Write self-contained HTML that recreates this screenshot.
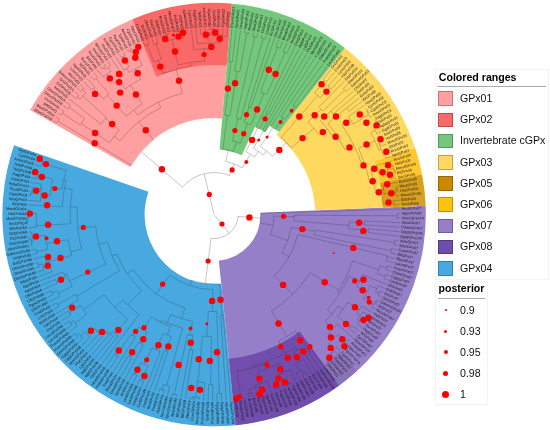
<!DOCTYPE html>
<html><head><meta charset="utf-8"><title>GPx phylogeny</title>
<style>
html,body{margin:0;padding:0;background:#fff}
body{width:550px;height:430px;position:relative;overflow:hidden;font-family:"Liberation Sans",Arial,sans-serif;color:#000}
.box{position:absolute;border:1px solid #f3f3f3;background:#fff;box-sizing:border-box}
.ttl{position:absolute;font-weight:bold;font-size:10.6px;line-height:14px;white-space:nowrap}
.hr{position:absolute;height:1px;background:#aaa}
.sw{position:absolute;width:14.5px;height:14.6px;box-sizing:border-box;border:1px solid rgba(0,0,0,0.25)}
.lt{position:absolute;font-size:10.6px;line-height:14px;white-space:nowrap;color:#111}
.dot{position:absolute;border-radius:50%;background:#ff0000}
</style></head><body>
<svg width="550" height="430" viewBox="0 0 550 430" style="position:absolute;left:0;top:0"><path d="M14.05 145.33A211.7 211.7 0 0 0 235.68 425.2L221.18 283.74A69.5 69.5 0 0 1 148.43 191.86Z" fill="#47a9df"/>
<path d="M235.68 425.2A211.7 211.7 0 0 0 425.61 205.73L260.56 212.65A46.5 46.5 0 0 1 218.84 260.86Z" fill="#957fc8"/>
<path d="M425.61 205.73A211.7 211.7 0 0 0 344.87 48.12L276.61 135.02A101.2 101.2 0 0 1 315.21 210.36Z" fill="#ffd95f"/>
<path d="M344.87 48.12A211.7 211.7 0 0 0 325.34 34.48L269.27 125.26A105 105 0 0 1 278.96 132.03Z" fill="#74c87b"/>
<path d="M326.28 35.07A211.7 211.7 0 0 0 302.56 22.27L254.63 126.47A97 97 0 0 1 265.5 132.34Z" fill="#74c87b"/>
<path d="M303.57 22.73A211.7 211.7 0 0 0 231.81 3.64L219.57 149.43A65.4 65.4 0 0 1 241.74 155.33Z" fill="#74c87b"/>
<path d="M231.81 3.64A211.7 211.7 0 0 0 30.03 110.03L130.19 166.93A96.5 96.5 0 0 1 222.17 118.44Z" fill="#ff9f9f"/>
<path d="M231.81 3.64A211.7 211.7 0 0 0 132.57 19.23L156.53 76.63A149.5 149.5 0 0 1 226.61 65.62Z" fill="#fa6868"/>
<path d="M425.61 205.73A211.7 211.7 0 0 0 421.98 174.57L380.05 182.64A169 169 0 0 1 382.95 207.52Z" fill="#d7a11f"/>
<path d="M421.98 174.57A211.7 211.7 0 0 0 415.09 148.13L374.55 161.54A169 169 0 0 1 380.05 182.64Z" fill="#ffc830"/>
<path d="M235.68 425.2A211.7 211.7 0 0 0 339.13 385.43L299.74 331.61A145 145 0 0 1 228.88 358.84Z" fill="#714dad"/>
<path d="M339.13 385.43A211.7 211.7 0 0 0 357.12 370.68L339.76 351.73A186 186 0 0 1 323.95 364.69Z" fill="#8872b8"/>
<path d="M38.69 156.25A184.86 184.86 0 0 0 37.31 160.56M38.69 156.25L37.32 155.8M37.31 160.56L35.94 160.14M43.04 160.01A179.55 179.55 0 0 0 41.16 166.33M43.04 160.01L37.99 158.4M41.16 166.33L34.66 164.51M34.49 169.17A185.26 185.26 0 0 0 33.43 173.58M34.49 169.17L33.49 168.92M33.43 173.58L32.42 173.35M38.4 172.44A180.69 180.69 0 0 0 36.97 178.92M38.4 172.44L33.95 171.37M36.97 178.92L31.47 177.81M30.78 191.49A184.77 184.77 0 0 0 30.27 195.98M30.78 191.49L29.26 191.3M30.27 195.98L28.75 195.83M32.92 187.24A183.23 183.23 0 0 0 32.04 193.91M32.92 187.24L29.89 186.79M32.04 193.91L30.52 193.74M41.02 184.12A175.74 175.74 0 0 0 39.87 191.55M41.02 184.12L30.62 182.29M39.87 191.55L32.45 190.57M41.89 188.06A174.24 174.24 0 0 0 40.37 201.29M41.89 188.06L40.41 187.83M40.37 201.29L28.34 200.37M52.71 178.99A165.27 165.27 0 0 0 49.91 195.69M52.71 178.99L37.65 175.67M49.91 195.69L41 194.66M66.27 170.4A154.3 154.3 0 0 0 61.92 189.12M66.27 170.4L42.07 163.16M61.92 189.12L51.1 187.3M66.04 180.21A152 152 0 0 0 62.31 206.7M66.04 180.21L63.8 179.69M62.31 206.7L28.05 204.92M26.79 218.61A187.36 187.36 0 0 0 26.94 223.19M26.79 218.61L27.84 218.59M26.94 223.19L28 223.14M27.74 214.03A186.36 186.36 0 0 0 27.85 220.87M27.74 214.03L27.8 214.03M27.85 220.87L26.85 220.9M28.81 209.5A185.36 185.36 0 0 0 28.77 217.43M28.81 209.5L27.87 209.47M28.77 217.43L27.77 217.45M36.1 213.51A178 178 0 0 0 36.54 227.11M36.1 213.51L28.75 213.47M36.54 227.11L28.26 227.69M72.28 189.62A144 144 0 0 0 70.39 223.67M72.28 189.62L64.4 188.24M70.39 223.67L36.45 225.81M29.67 236.7A185.75 185.75 0 0 0 30.26 241.21M29.67 236.7L29.12 236.77M30.26 241.21L29.72 241.29M30.94 238.83A184.75 184.75 0 0 0 31.95 245.53M30.94 238.83L29.95 238.96M31.95 245.53L30.43 245.79M31.71 231.94A183.21 183.21 0 0 0 32.95 241.95M31.71 231.94L28.64 232.24M32.95 241.95L31.42 242.18M36.14 249.32A181.32 181.32 0 0 0 37.04 253.66M36.14 249.32L31.25 250.27M37.04 253.66L32.17 254.74M45.37 235.34A170 170 0 0 0 47.66 249.19M45.37 235.34L32.26 236.96M47.66 249.19L36.57 251.49M37.84 262.64A182.68 182.68 0 0 0 39.07 266.93M37.84 262.64L34.36 263.59M39.07 266.93L35.61 267.97M41.92 263.8A179.07 179.07 0 0 0 43.84 270.08M41.92 263.8L38.44 264.79M43.84 270.08L36.97 272.32M44.86 256.3A174.3 174.3 0 0 0 47.41 265.55M44.86 256.3L33.21 259.17M47.41 265.55L42.85 266.95M48.29 260.33A172 172 0 0 0 51.92 271.87M48.29 260.33L46.07 260.95M51.92 271.87L38.43 276.64M68.25 239.73A148 148 0 0 0 71.79 255.26M68.25 239.73L46.57 243.47M71.79 255.26L48.72 261.85M77.3 207.15A137 137 0 0 0 81.49 249M77.3 207.15L70.31 206.76M81.49 249L70.84 251.77M55.41 279.53A171.46 171.46 0 0 0 57.05 283.4M55.41 279.53L41.68 285.15M57.05 283.4L43.45 289.35M63.36 272.02A161.3 161.3 0 0 0 65.57 277.51M63.36 272.02L40 280.91M65.57 277.51L56.22 281.47M51.08 290.82A179.96 179.96 0 0 0 52.99 294.78M51.08 290.82L45.33 293.5M52.99 294.78L47.31 297.61M56.96 290.42A174.48 174.48 0 0 0 59.85 296.14M56.96 290.42L52.02 292.81M59.85 296.14L49.4 301.66M66.58 273.91A159 159 0 0 0 72.19 286.31M66.58 273.91L64.44 274.77M72.19 286.31L58.38 293.29M95.69 226.44A119 119 0 0 0 105.93 264.21M95.69 226.44L77.78 228.24M105.93 264.21L69.57 280.88M56.71 302.79A180.41 180.41 0 0 0 58.91 306.61M56.71 302.79L51.57 305.67M58.91 306.61L53.85 309.62M75.49 294.51A160 160 0 0 0 78.51 299.55M75.49 294.51L57.8 304.71M78.51 299.55L56.22 313.51M107.62 242.22A110 110 0 0 0 119.48 270.7M107.62 242.22L98.91 244.48M119.48 270.7L76.47 296.2M68.33 310.97A174.74 174.74 0 0 0 70.73 314.51M68.33 310.97L58.69 317.34M70.73 314.51L61.25 321.11M69.23 320.91A179.69 179.69 0 0 0 71.87 324.42M69.23 320.91L63.9 324.82M71.87 324.42L66.64 328.46M73.45 320.49A176.06 176.06 0 0 0 77.43 325.58M73.45 320.49L70.54 322.68M77.43 325.58L69.47 332.03M80.41 305.35A161.59 161.59 0 0 0 86.81 314.14M80.41 305.35L69.52 312.74M86.81 314.14L75.41 323.05M74.67 333.59A183.3 183.3 0 0 0 77.63 336.96M74.67 333.59L72.39 335.54M77.63 336.96L75.39 338.97M78.4 333.31A180.29 180.29 0 0 0 82.85 338.21M78.4 333.31L76.14 335.28M82.85 338.21L78.47 342.32M85.05 331.74A174.29 174.29 0 0 0 90.18 337.15M85.05 331.74L80.6 335.78M90.18 337.15L81.64 345.6M94.21 328.2A165.16 165.16 0 0 0 99.54 333.58M94.21 328.2L87.59 334.47M99.54 333.58L84.88 348.8M97.56 330.22A164.16 164.16 0 0 0 103.16 335.61M97.56 330.22L96.85 330.92M103.16 335.61L88.21 351.93M103.21 329.95A160.01 160.01 0 0 0 108.89 335.15M103.21 329.95L100.33 332.95M108.89 335.15L91.6 354.96M107.17 331.33A158.31 158.31 0 0 0 112.96 336.39M107.17 331.33L106.02 332.59M112.96 336.39L95.07 357.92M112.26 331.34A154.92 154.92 0 0 0 118.07 336.16M112.26 331.34L110.03 333.9M118.07 336.16L98.62 360.79M104.13 294.79A136.1 136.1 0 0 0 127.15 319.31M104.13 294.79L83.53 309.8M127.15 319.31L115.13 333.79M122.97 300.16A125 125 0 0 0 139.04 314.55M122.97 300.16L114.88 307.76M139.04 314.55L102.23 363.57M116.82 254.13A105 105 0 0 0 141.64 290.59M116.82 254.13L112.19 256.01M141.64 290.59L127.84 305.07M114.8 353.79A170.98 170.98 0 0 0 118.23 356.18M114.8 353.79L105.9 366.26M118.23 356.18L109.65 368.86M130.92 334.26A145.73 145.73 0 0 0 135.37 337.23M130.92 334.26L116.51 355M135.37 337.23L113.45 371.37M128.24 355.82A165.27 165.27 0 0 0 131.73 357.87M128.24 355.82L117.32 373.79M131.73 357.87L121.24 376.11M138.57 342.33A148.4 148.4 0 0 0 143.3 345.02M138.57 342.33L129.98 356.86M143.3 345.02L125.22 378.33M138.9 327.14A135.35 135.35 0 0 0 147.35 332.35M138.9 327.14L133.13 335.77M147.35 332.35L140.92 343.7M132.98 373.17A178.12 178.12 0 0 0 136.88 375.11M132.98 373.17L129.25 380.46M136.88 375.11L133.34 382.48M139.73 379.4A180.81 180.81 0 0 0 143.78 381.17M139.73 379.4L137.47 384.41M143.78 381.17L141.64 386.23M140.72 362.47A165.08 165.08 0 0 0 148.04 365.89M140.72 362.47L134.92 374.15M148.04 365.89L141.75 380.3M151.97 347.9A147.07 147.07 0 0 0 160.23 351.45M151.97 347.9L144.36 364.23M160.23 351.45L145.86 387.95M164.44 350.43A144.63 144.63 0 0 0 167.77 351.61M164.44 350.43L150.13 389.57M167.77 351.61L154.43 391.08M163.16 333.23A129.1 129.1 0 0 0 171.25 336.38M163.16 333.23L156.07 349.74M171.25 336.38L166.1 351.03M150.98 317.01A120.3 120.3 0 0 0 170.38 326.67M150.98 317.01L143.08 329.82M170.38 326.67L167.18 334.87M159.91 388.8A182.43 182.43 0 0 0 164.19 390.07M159.91 388.8L158.76 392.49M164.19 390.07L163.13 393.79M163.51 384.52A177.29 177.29 0 0 0 169.78 386.26M163.51 384.52L162.04 389.45M169.78 386.26L167.53 394.99M161.49 320.22A118 118 0 0 0 182.51 328.29M161.49 320.22L160.46 322.28M182.51 328.29L166.64 385.42M172.48 393.83A184 184 0 0 0 176.87 394.79M172.48 393.83L171.96 396.07M176.87 394.79L176.41 397.05M189.67 349.4A137 137 0 0 0 192.98 349.96M189.67 349.4L180.88 397.91M192.98 349.96L185.38 398.67M187.45 334.68A123 123 0 0 0 193.06 335.79M187.45 334.68L174.23 394.23M193.06 335.79L190.66 349.58M170.73 314.6A109 109 0 0 0 192.57 321.45M170.73 314.6L167.15 322.86M192.57 321.45L189.8 335.18M133.15 269.84A98 98 0 0 0 184.76 308.11M133.15 269.84L127.37 273.78M184.76 308.11L181.47 318.6M190.05 398.06A185.03 185.03 0 0 0 194.55 398.6M190.05 398.06L189.89 399.32M194.55 398.6L194.41 399.86M192.48 396.85A183.53 183.53 0 0 0 199.18 397.53M192.48 396.85L192.3 398.34M199.18 397.53L198.95 400.28M197.37 381.76A168 168 0 0 0 204.54 382.33M197.37 381.76L195.82 397.22M204.54 382.33L203.5 400.6M208.58 384.51A170 170 0 0 0 212.74 384.59M208.58 384.51L208.05 400.8M212.74 384.59L212.61 400.89M202.4 336.04A122 122 0 0 0 211.63 336.58M202.4 336.04L197.98 381.83M211.63 336.58L210.66 384.57M217.05 393.58A179 179 0 0 0 221.43 393.45M217.05 393.58L217.17 400.87M221.43 393.45L221.72 400.74M208.34 311.43A97 97 0 0 0 216.88 311.56M208.34 311.43L206.86 336.38M216.88 311.56L219.24 393.53M169.8 275.12A75 75 0 0 0 212.77 289.59M169.8 275.12L156.21 293.68M212.77 289.59L212.38 311.58M220.7 315.38A101 101 0 0 0 223.16 315.19M220.7 315.38L226.28 400.5M223.16 315.19L230.82 400.15M191.36 280.27A69.5 69.5 0 0 0 219.66 283.88M191.36 280.27L189.56 285.47M219.66 283.88L222.18 315.28M235.32 399.51A186.12 186.12 0 0 0 239.82 398.94M235.32 399.51L235.34 399.68M239.82 398.94L239.85 399.11M237.44 398.17A185.04 185.04 0 0 0 244.13 397.19M237.44 398.17L237.58 399.24M244.13 397.19L244.33 398.43M248.04 393.59A182.17 182.17 0 0 0 252.39 392.71M248.04 393.59L248.8 397.64M252.39 392.71L253.25 396.74M257.57 395.28A185.83 185.83 0 0 0 261.96 394.16M257.57 395.28L257.68 395.73M261.96 394.16L262.08 394.62M259.29 392.87A183.91 183.91 0 0 0 265.78 391.1M259.29 392.87L259.77 394.73M265.78 391.1L266.45 393.39M249.4 389.12A178.05 178.05 0 0 0 261 386.36M249.4 389.12L250.21 393.16M261 386.36L262.54 392.01M254.55 385.01A175.14 175.14 0 0 0 267.39 381.44M254.55 385.01L255.22 387.84M267.39 381.44L270.79 392.07M274.33 388.41A183.95 183.95 0 0 0 278.54 386.89M274.33 388.41L275.1 390.63M278.54 386.89L279.37 389.09M287.43 384.88A185.4 185.4 0 0 0 291.56 383.04M287.43 384.88L287.79 385.71M291.56 383.04L291.94 383.86M282.89 385.69A184.4 184.4 0 0 0 289.09 383.06M282.89 385.69L283.6 387.45M289.09 383.06L289.5 383.97M274.47 382.19A178.13 178.13 0 0 0 283.56 378.63M274.47 382.19L276.44 387.67M283.56 378.63L286 384.4M276.94 375.12A172.39 172.39 0 0 0 289.92 369.42M276.94 375.12L279.04 380.47M289.92 369.42L296.04 381.91M257.7 371.45A162.8 162.8 0 0 0 279.63 363.62M257.7 371.45L261.01 383.34M279.63 363.62L283.49 372.4M236.93 371.24A158.3 158.3 0 0 0 267.29 363.7M236.93 371.24L240.79 397.71M267.29 363.7L268.8 367.93M302.11 374.13A182.2 182.2 0 0 0 305.97 371.94M302.11 374.13L304.09 377.73M305.97 371.94L308.04 375.48M296.3 372.59A178.1 178.1 0 0 0 302.02 369.48M296.3 372.59L300.09 379.87M302.02 369.48L304.04 373.05M295.26 363.86A169.9 169.9 0 0 0 303.31 359.19M295.26 363.86L299.18 371.06M303.31 359.19L311.93 373.15M293.9 352.24A159.1 159.1 0 0 0 300.92 347.92M293.9 352.24L299.32 361.58M300.92 347.92L315.76 370.72M251.74 365.99A156 156 0 0 0 295.81 347.49M251.74 365.99L252.3 368.22M295.81 347.49L297.44 350.13M308.05 351.46A166 166 0 0 0 311.35 349.13M308.05 351.46L319.53 368.19M311.35 349.13L323.24 365.58M278.72 341.05A142 142 0 0 0 295.32 331.08M278.72 341.05L285.09 353.51M295.32 331.08L309.04 350.77M326.79 362.74A186.13 186.13 0 0 0 330.37 359.96M326.79 362.74L326.89 362.88M330.37 359.96L330.47 360.09M327.97 360.57A185.13 185.13 0 0 0 333.23 356.31M327.97 360.57L328.59 361.36M333.23 356.31L333.98 357.21M328.82 356.25A182.28 182.28 0 0 0 334.76 351.23M328.82 356.25L330.62 358.47M334.76 351.23L337.42 354.24M330.84 352.62A180.78 180.78 0 0 0 337.03 347.15M330.84 352.62L331.82 353.77M337.03 347.15L340.78 351.2M343.91 347.9A186.06 186.06 0 0 0 347.12 344.7M343.91 347.9L344.07 348.07M347.12 344.7L347.29 344.87M343.19 343.97A182.76 182.76 0 0 0 347.83 339.17M343.19 343.97L345.52 346.31M347.83 339.17L350.42 341.58M328.46 343.71A172.47 172.47 0 0 0 338.13 334.44M328.46 343.71L333.97 349.92M338.13 334.44L345.53 341.59M328.25 333.8A165.04 165.04 0 0 0 337.57 324.12M328.25 333.8L333.39 339.17M337.57 324.12L353.47 338.22M348.85 328.38A176.37 176.37 0 0 0 351.58 325.07M348.85 328.38L356.44 334.79M351.58 325.07L359.33 331.29M363.58 323.16A184.74 184.74 0 0 0 366.18 319.49M363.58 323.16L364.84 324.08M366.18 319.49L367.46 320.37M357.29 324.01A180.21 180.21 0 0 0 361.19 318.71M357.29 324.01L362.13 327.72M361.19 318.71L364.89 321.33M357.47 320.06A177.98 177.98 0 0 0 363.03 312.05M357.47 320.06L359.26 321.38M363.03 312.05L369.99 316.6M356.64 313.55A173.52 173.52 0 0 0 361.57 306.04M356.64 313.55L360.3 316.09M361.57 306.04L372.43 312.78M337.48 316.23A159.85 159.85 0 0 0 347.73 302.33M337.48 316.23L350.23 326.73M347.73 302.33L359.16 309.83M325.16 321.5A154.15 154.15 0 0 0 338.2 306.04M325.16 321.5L333.01 329.05M338.2 306.04L342.79 309.42M375.43 304.06A184.47 184.47 0 0 0 377.56 300.1M375.43 304.06L377.03 304.95M377.56 300.1L379.18 300.95M371.62 307.04A182.64 182.64 0 0 0 374.89 301.22M371.62 307.04L374.78 308.89M374.89 301.22L376.5 302.09M377.89 295.26A182.58 182.58 0 0 0 379.81 291.24M377.89 295.26L381.23 296.9M379.81 291.24L383.19 292.81M375.5 291.65A178.85 178.85 0 0 0 378.21 285.7M375.5 291.65L378.86 293.26M378.21 285.7L385.04 288.66M363.49 298.63A171.4 171.4 0 0 0 370.1 285.6M363.49 298.63L373.28 304.14M370.1 285.6L376.88 288.69M356.73 287.01A159.95 159.95 0 0 0 362.37 274.6M356.73 287.01L366.94 292.19M362.37 274.6L386.8 284.48M327.46 310.21A148.3 148.3 0 0 0 349.08 276.03M327.46 310.21L331.94 313.98M349.08 276.03L359.68 280.86M383.96 278.56A181.5 181.5 0 0 0 385.47 274.4M383.96 278.56L388.45 280.25M385.47 274.4L390 275.98M386.1 269.96A180.69 180.69 0 0 0 387.4 265.76M386.1 269.96L391.44 271.68M387.4 265.76L392.78 267.34M377.37 273.82A173.68 173.68 0 0 0 380.06 265.79M377.37 273.82L384.73 276.49M380.06 265.79L386.77 267.86M337.5 292.63A146 146 0 0 0 352.52 261.02M337.5 292.63L339.44 293.86M352.52 261.02L378.76 269.82M271.51 310.77A112 112 0 0 0 309.86 272.69M271.51 310.77L286.89 336.52M309.86 272.69L338.93 290.33M385.99 260.82A178 178 0 0 0 387.27 255.77M385.99 260.82L394.01 262.97M387.07 256.62L395.14 258.58M274.55 275.77A86 86 0 0 0 297.77 234.49M274.55 275.77L292.82 294.27M297.77 234.49L387.27 255.77M390.4 252.9A180.41 180.41 0 0 0 391.28 248.6M390.4 252.9L396.15 254.15M391.28 248.6L397.06 249.71M394 244.59A182.38 182.38 0 0 0 394.68 240.2M394 244.59L397.86 245.24M394.68 240.2L398.56 240.75M314.03 235.04A102 102 0 0 0 314.91 230.15M314.03 235.04L390.85 250.75M314.91 230.15L394.35 242.4M282.13 252.76A78 78 0 0 0 291.07 227.24M282.13 252.76L289.11 256.67M291.07 227.24L314.75 231.13M368.14 232.62A155.09 155.09 0 0 0 368.53 228.87M368.14 232.62L399.14 236.25M368.53 228.87L399.61 231.74M363.99 224.77A150.23 150.23 0 0 0 364.19 221.12M363.99 224.77L399.97 227.21M364.19 221.12L400.22 222.68M348.54 228.67A135.17 135.17 0 0 0 349.07 222.11M348.54 228.67L368.34 230.75M349.07 222.11L364.1 222.94M397.24 218.08A183.18 183.18 0 0 0 397.28 213.62M397.24 218.08L400.37 218.14M397.28 213.62L400.4 213.6M293.84 220.99A80 80 0 0 0 294.1 215.15M293.84 220.99L348.84 225.39M294.1 215.15L397.27 215.85M270.7 234.51A60 60 0 0 0 274.08 216.18M270.7 234.51L287.68 240.48M274.08 216.18L294.07 216.71M260.03 223.06A46.7 46.7 0 0 0 260.78 213.21M260.03 223.06L273.11 225.48M260.78 213.21L400.32 209.07M211.07 238.41A24 24 0 0 0 238.03 216.43M211.07 238.41L205.32 283.54M238.03 216.43L260.66 218.16M393.67 204.92A179.83 179.83 0 0 0 393.38 200.61M393.67 204.92L400.13 204.57M393.38 200.61L399.84 200.11M397.18 191.45A184.54 184.54 0 0 0 396.57 187.06M397.18 191.45L398.93 191.23M396.57 187.06L398.31 186.8M395.93 196.02A182.78 182.78 0 0 0 395.15 189.5M395.93 196.02L399.44 195.66M395.15 189.5L396.89 189.25M384.17 194.13A171.3 171.3 0 0 0 382.82 184.99M384.17 194.13L395.57 192.75M382.82 184.99L397.6 182.39M382.73 203.48A169 169 0 0 0 381.28 189.88M382.73 203.48L393.54 202.76M381.28 189.88L383.56 189.55M395.68 173.67A186.13 186.13 0 0 0 394.64 169.33M395.68 173.67L395.84 173.64M394.64 169.33L394.81 169.29M394.2 171.73A185.13 185.13 0 0 0 392.54 165.28M394.2 171.73L395.17 171.5M392.54 165.28L393.67 164.97M389.61 179.44A179 179 0 0 0 387.46 170.03M389.61 179.44L396.77 178M387.46 170.03L393.4 168.5M378.51 173.38A169.5 169.5 0 0 0 376.35 165.54M378.51 173.38L387.73 171.07M376.35 165.54L392.43 160.68M375.61 192.6A163 163 0 0 0 370.79 169.67M375.61 192.6L381.55 191.79M370.79 169.67L377.03 167.88M388.36 152.65A184.95 184.95 0 0 0 386.83 148.49M388.36 152.65L389.64 152.2M386.83 148.49L388.09 148.01M385.95 158.11A180.9 180.9 0 0 0 383.81 151.97M385.95 158.11L391.08 156.42M383.81 151.97L387.61 150.57M383.21 140.4A184.67 184.67 0 0 0 381.38 136.36M383.21 140.4L384.7 139.74M381.38 136.36L382.86 135.68M380.89 146.13A180.3 180.3 0 0 0 378.33 140.18M380.89 146.13L386.45 143.86M378.33 140.18L382.31 138.38M383.4 155.56A179.3 179.3 0 0 0 378.72 143.54M383.4 155.56L384.91 155.03M378.72 143.54L379.64 143.15M377.51 123.33A187.17 187.17 0 0 0 375.28 119.44M377.51 123.33L376.75 123.75M375.28 119.44L374.52 119.88M378.77 127.74A186.17 186.17 0 0 0 375.54 121.87M378.77 127.74L378.88 127.68M375.54 121.87L376.4 121.38M376.8 133.7A181.7 181.7 0 0 0 373.26 126.95M376.8 133.7L380.92 131.65M373.26 126.95L377.18 124.79M379.02 150.34A177 177 0 0 0 370.9 132.49M379.02 150.34L381.17 149.51M370.9 132.49L375.06 130.31M369.7 181.87A159 159 0 0 0 358.61 148.28M369.7 181.87L373.61 181.05M358.61 148.28L374.97 140.77M368.96 112.85A185.3 185.3 0 0 0 366.48 109.17M368.96 112.85L369.8 112.3M366.48 109.17L367.3 108.6M370.31 117.24A184.06 184.06 0 0 0 366.71 111.69M370.31 117.24L372.21 116.06M366.71 111.69L367.73 111M353.38 124.28A166 166 0 0 0 348.31 116.9M353.38 124.28L368.53 114.45M348.31 116.9L364.72 104.95M362.3 165.88A156 156 0 0 0 342.17 125.53M362.3 165.88L365.15 164.95M342.17 125.53L350.38 119.82M349.1 111.28A170 170 0 0 0 346.59 108.08M349.1 111.28L362.05 101.38M346.59 108.08L359.29 97.86M344.83 149.6A146 146 0 0 0 327.88 123.11M344.83 149.6L353.78 145.14M327.88 123.11L346.59 108.08M333.3 113.96A156 156 0 0 0 330.85 111.13M333.3 113.96L356.45 94.42M330.85 111.13L353.53 91.04M333.7 138.05A142 142 0 0 0 320.37 120.42M333.7 138.05L337.07 135.9M320.37 120.42L330.85 111.13M346.21 91.74A180.41 180.41 0 0 0 343.23 88.61M346.21 91.74L350.53 87.73M343.23 88.61L347.44 84.5M322.71 111.14A150 150 0 0 0 318.92 107.3M322.71 111.14L344.73 90.16M318.92 107.3L344.29 81.34M319.31 134.88A132 132 0 0 0 308.14 121.97M319.31 134.88L327.28 128.84M308.14 121.97L320.96 109.33M331.05 89A171.62 171.62 0 0 0 328.01 86.23M331.05 89L341.06 78.25M328.01 86.23L337.75 75.25M326.43 81.72A174 174 0 0 0 323.22 79.07M326.43 81.72L334.37 72.33M323.22 79.07L330.93 69.48M320.38 97.68A158 158 0 0 0 314.65 92.72M320.38 97.68L329.54 87.6M314.65 92.72L324.83 80.38M291.24 147.87A102 102 0 0 0 281.06 137.66M291.24 147.87L313.93 128.24M281.06 137.66L317.83 95.42M295.83 107.63A134.62 134.62 0 0 0 292.93 105.47M295.83 107.63L327.21 66.56M292.93 105.47L323.19 63.58M284.99 119.19A118.86 118.86 0 0 0 281.09 116.41M284.99 119.19L294.39 106.54M281.09 116.41L319.1 60.71M275.01 129.07A105 105 0 0 0 270.93 126.31M275.01 129.07L283.06 117.78M270.93 126.31L314.93 57.95M272.52 156.35A82.5 82.5 0 0 0 260.37 146.3M272.52 156.35L286.33 142.58M260.37 146.3L272.99 127.67M264.49 131.72A97 97 0 0 0 262.45 130.51M264.49 131.72L310.89 55.41M262.45 130.51L306.97 53.1M263.31 155.12A77.2 77.2 0 0 0 253.4 148.15M263.31 155.12L266.69 151.03M253.4 148.15L263.48 131.11M268.27 114.83A113.53 113.53 0 0 0 265.82 113.53M268.27 114.83L302.99 50.88M265.82 113.53L298.97 48.75M259.34 128.8A97 97 0 0 0 256.16 127.2M259.34 128.8L267.05 114.17M256.16 127.2L294.89 46.73M254.64 156.92A70.5 70.5 0 0 0 245.83 151.64M254.64 156.92L258.49 151.44M245.83 151.64L257.76 127.98M287.01 53.32A177 177 0 0 0 283.2 51.65M287.01 53.32L290.84 44.84M283.2 51.65L286.83 43.08M280.09 48.21A179 179 0 0 0 276.16 46.7M280.09 48.21L282.78 41.42M276.16 46.7L278.69 39.86M266.66 94.61A131 131 0 0 0 260.39 92.05M266.66 94.61L285.11 52.47M260.39 92.05L277.34 47.15M250.78 107.72A113 113 0 0 0 248.26 106.89M250.78 107.72L274.57 38.39M248.26 106.89L270.41 37.01M250.92 124.86A97 97 0 0 0 244.07 122.35M250.92 124.86L263.82 93.4M244.07 122.35L249.01 107.13M265.28 38.95A182.95 182.95 0 0 0 261.14 37.8M265.28 38.95L266.22 35.74M261.14 37.8L262 34.56M256.83 37.33A182.35 182.35 0 0 0 252.65 36.38M256.83 37.33L257.76 33.49M252.65 36.38L253.49 32.51M240.68 119.23A99 99 0 0 0 236.17 118.09M240.68 119.23L263.22 38.37M236.17 118.09L254.75 36.84M240.28 143.25A76 76 0 0 0 232.43 140.84M240.28 143.25L247.52 123.54M232.43 140.84L237.98 118.52M248.81 33.68A184.21 184.21 0 0 0 244.55 32.92M248.81 33.68L249.2 31.64M244.55 32.92L244.89 30.86M239.74 71.89A145 145 0 0 0 234.7 71.07M239.74 71.89L246.68 33.29M234.7 71.07L240.56 30.19M232.39 61.69A154 154 0 0 0 228.79 61.3M232.39 61.69L236.22 29.62M228.79 61.3L231.87 29.15M229.93 115.86A100 100 0 0 0 225.04 115.2M229.93 115.86L237.06 71.43M225.04 115.2L230.95 61.52M233.46 151.5A66 66 0 0 0 222.86 149.18M233.46 151.5L236.39 141.94M222.86 149.18L227.37 115.48M242.11 167.85A54.5 54.5 0 0 0 225.75 161.36M242.11 167.85L250.33 154.12M225.75 161.36L228.21 150.13M213.92 29.14A185.46 185.46 0 0 0 209.43 29.2M213.92 29.14L213.92 28.3M209.43 29.2L209.41 28.36M218.39 30.19A184.46 184.46 0 0 0 211.69 30.16M218.39 30.19L218.43 28.35M211.69 30.16L211.68 29.16M215.02 32.81A181.79 181.79 0 0 0 205.13 33.03M215.02 32.81L215.04 30.15M205.13 33.03L204.9 28.53M210.1 33.85A180.79 180.79 0 0 0 200.81 34.3M210.1 33.85L210.07 32.85M200.81 34.3L200.4 28.8M222.62 35.12A179.68 179.68 0 0 0 205.5 35.12M222.62 35.12L222.94 28.51M205.5 35.12L205.45 34.02M226.89 36.49A178.57 178.57 0 0 0 214.06 36.03M226.89 36.49L227.44 28.78M214.06 36.03L214.06 34.92M220.23 43.03A171.67 171.67 0 0 0 197.33 43.75M220.23 43.03L220.48 36.14M197.33 43.75L195.91 29.19M208.95 48.68A166 166 0 0 0 193.89 49.83M208.95 48.68L208.77 43.01M193.89 49.83L191.42 29.69M177.83 30.63A187.52 187.52 0 0 0 173.39 31.56M177.83 30.63L178.06 31.82M173.39 31.56L173.65 32.74M182.46 30.79A186.52 186.52 0 0 0 175.81 32.06M182.46 30.79L182.5 31M175.81 32.06L175.6 31.08M187.07 31.06A185.52 185.52 0 0 0 179.32 32.37M187.07 31.06L186.95 30.29M179.32 32.37L179.13 31.39M169.26 33.78A186.3 186.3 0 0 0 164.89 34.92M169.26 33.78L169.26 33.78M164.89 34.92L164.89 34.92M167.32 35.3A185.3 185.3 0 0 0 160.85 37.12M167.32 35.3L167.07 34.33M160.85 37.12L160.56 36.16M184.1 37.12A180 180 0 0 0 165.51 41.28M184.1 37.12L183.19 31.68M165.51 41.28L164.08 36.18M204.64 60.89A154 154 0 0 0 178.12 64.86M204.64 60.89L203.9 48.91M178.12 64.86L172.04 39.58M158.13 43.26A180.24 180.24 0 0 0 154 44.67M158.13 43.26L156.25 37.51M154 44.67L151.98 38.96M149.18 44.27A182.28 182.28 0 0 0 145.08 45.89M149.18 44.27L147.75 40.52M145.08 45.89L143.55 42.17M161.29 59.33A164 164 0 0 0 153.84 62.07M161.29 59.33L156.06 43.95M153.84 62.07L147.12 45.07M190.81 66.42A150 150 0 0 0 163.06 73.55M190.81 66.42L190.19 62.47M163.06 73.55L158.3 60.39M139.81 44.87A185.28 185.28 0 0 0 135.72 46.71M139.81 44.87L139.4 43.93M135.72 46.71L135.29 45.79M132.05 49.4A184.46 184.46 0 0 0 128.07 51.43M132.05 49.4L131.23 47.75M128.07 51.43L127.21 49.8M138.86 48.21A182.61 182.61 0 0 0 130.89 52.05M138.86 48.21L137.76 45.78M130.89 52.05L130.05 50.4M125.06 55.19A182.59 182.59 0 0 0 121.22 57.4M125.06 55.19L123.25 51.95M121.22 57.4L119.34 54.2M129.24 66.92A170.33 170.33 0 0 0 123.94 70.1M129.24 66.92L123.13 56.28M123.94 70.1L115.48 56.54M142.22 65.38A165.63 165.63 0 0 0 128.99 72.51M142.22 65.38L134.85 50.08M128.99 72.51L126.58 68.48M105.71 66.09A183.86 183.86 0 0 0 102.14 68.75M105.71 66.09L104.27 64.12M102.14 68.75L100.66 66.82M110.72 65.51A181.42 181.42 0 0 0 105.38 69.36M110.72 65.51L107.95 61.5M105.38 69.36L103.92 67.41M110.89 71.37A176.55 176.55 0 0 0 103.24 77.2M110.89 71.37L108.03 67.41M103.24 77.2L97.12 69.61M122.96 76.11A165.79 165.79 0 0 0 113.55 82.78M122.96 76.11L111.68 58.98M113.55 82.78L107.02 74.23M141.04 79.03A154 154 0 0 0 125.02 88.98M141.04 79.03L135.52 68.79M125.02 88.98L118.19 79.36M97.62 77.18A180.15 180.15 0 0 0 94.33 80.04M97.62 77.18L93.64 72.48M94.33 80.04L90.23 75.44M94.96 87.1A174.5 174.5 0 0 0 91.91 90.03M94.96 87.1L86.9 78.48M91.91 90.03L83.64 81.6M109.18 93.81A160 160 0 0 0 103.45 99.03M109.18 93.81L95.96 78.6M103.45 99.03L93.43 88.56M142.34 103.81A132 132 0 0 0 126.1 116.21M142.34 103.81L130.38 85.35M126.1 116.21L107.43 95.34M182.42 93.16A125.5 125.5 0 0 0 137.68 115.05M182.42 93.16L176.24 69.46M137.68 115.05L133.72 109.89M83.86 88.09A181.57 181.57 0 0 0 80.83 91.28M83.86 88.09L80.46 84.8M80.83 91.28L77.36 88.07M78.87 95.42A180.25 180.25 0 0 0 76.03 98.73M78.87 95.42L74.34 91.42M76.03 98.73L71.39 94.84M85.8 92.97A176.79 176.79 0 0 0 80.07 99.32M85.8 92.97L82.33 89.68M80.07 99.32L77.44 97.06M106.49 117.42A145 145 0 0 0 100.81 124.1M106.49 117.42L82.9 96.11M100.81 124.1L68.54 98.33M70.45 105.45A180.41 180.41 0 0 0 67.85 108.96M70.45 105.45L65.77 101.89M67.85 108.96L63.08 105.51M63.71 111.41A182.38 182.38 0 0 0 61.26 115.08M63.71 111.41L60.48 109.2M61.26 115.08L57.98 112.95M84.74 118.75A161 161 0 0 0 80.25 125.13M84.74 118.75L69.14 107.19M80.25 125.13L62.47 113.24M119.23 130.17A127 127 0 0 0 109.38 142.75M119.23 130.17L105.79 118.2M109.38 142.75L81.34 123.51M160.94 107.57A119.5 119.5 0 0 0 120.01 140.93M160.94 107.57L158.27 102.2M120.01 140.93L114.11 136.3M59.22 119.02A182 182 0 0 0 56.95 122.79M59.22 119.02L55.56 116.76M56.95 122.79L53.24 120.62M153.64 140.03A96 96 0 0 0 131.68 165.37M153.64 140.03L138.84 121.78M131.68 165.37L57.85 121.28M229.58 175.56A42 42 0 0 0 182.36 187.1M229.58 175.56L234.19 163.94M182.36 187.1L141.54 151.74M214.42 214.99L229.26 233.2M213.98 214.11L204.13 173.8" fill="none" stroke="#333" stroke-width="0.45" stroke-opacity="0.62"/>
<g fill="#ff0000"><circle cx="252.1" cy="139.9" r="3.2"/><circle cx="258.7" cy="140.1" r="1.5"/><circle cx="267.1" cy="137.1" r="1.5"/><circle cx="279.3" cy="149.9" r="3.2"/><circle cx="246.3" cy="161.9" r="2"/><circle cx="232.1" cy="169.9" r="2.6"/><circle cx="161.9" cy="169.2" r="3.2"/><circle cx="208.1" cy="261" r="2.6"/><circle cx="249.4" cy="217.4" r="3.2"/><circle cx="222" cy="224" r="2.6"/><circle cx="209.3" cy="194.4" r="2.6"/><circle cx="39.7" cy="158.8" r="3.2"/><circle cx="46" cy="164.1" r="3.2"/><circle cx="35.1" cy="172" r="3.2"/><circle cx="41.8" cy="177" r="3.2"/><circle cx="54.8" cy="188.5" r="2.6"/><circle cx="36.2" cy="190.8" r="3.2"/><circle cx="44.6" cy="195.4" r="3.2"/><circle cx="47.1" cy="205.3" r="3.2"/><circle cx="29.9" cy="213.6" r="3.2"/><circle cx="48.1" cy="224.7" r="3.2"/><circle cx="83.3" cy="227.4" r="2.6"/><circle cx="36" cy="236.4" r="3.2"/><circle cx="46.5" cy="238.3" r="2"/><circle cx="57" cy="241.3" r="3.2"/><circle cx="48.1" cy="256.9" r="3.2"/><circle cx="60.5" cy="258" r="3.2"/><circle cx="47.7" cy="265.7" r="3.2"/><circle cx="60.9" cy="279.7" r="3.2"/><circle cx="87.7" cy="272" r="2.6"/><circle cx="72.1" cy="307.6" r="3.2"/><circle cx="90.9" cy="330.7" r="3.2"/><circle cx="102.1" cy="331.9" r="3.2"/><circle cx="118.4" cy="330" r="3.2"/><circle cx="135.6" cy="331.4" r="2.6"/><circle cx="144" cy="327.7" r="2.6"/><circle cx="143.3" cy="339.3" r="3.2"/><circle cx="118.8" cy="350.5" r="3.2"/><circle cx="132.1" cy="352.3" r="3.2"/><circle cx="158.4" cy="345.3" r="3.2"/><circle cx="168.3" cy="346.5" r="3.2"/><circle cx="146.7" cy="359.8" r="2.6"/><circle cx="137.4" cy="369.8" r="3.2"/><circle cx="144.4" cy="376" r="3.2"/><circle cx="212.1" cy="300.9" r="3.2"/><circle cx="220.5" cy="299.8" r="3.2"/><circle cx="206.7" cy="323.7" r="1.5"/><circle cx="190.5" cy="328.4" r="2"/><circle cx="190.7" cy="342.8" r="3.2"/><circle cx="217" cy="352.3" r="3.2"/><circle cx="198.8" cy="359.3" r="3.2"/><circle cx="209.8" cy="360.9" r="3.2"/><circle cx="178.6" cy="364.9" r="3.2"/><circle cx="191.2" cy="388" r="3.2"/><circle cx="200" cy="389.8" r="3.2"/><circle cx="162.6" cy="284.2" r="2.6"/><circle cx="283.6" cy="216.3" r="2.6"/><circle cx="302.4" cy="229.1" r="3.2"/><circle cx="283.1" cy="284.9" r="3.2"/><circle cx="359.1" cy="222.8" r="3.2"/><circle cx="363.3" cy="230.9" r="3.2"/><circle cx="353.3" cy="247.9" r="3.2"/><circle cx="333.7" cy="253" r="0.9"/><circle cx="324.7" cy="282.3" r="3.2"/><circle cx="354.7" cy="280.9" r="2.6"/><circle cx="363.5" cy="279.8" r="3.2"/><circle cx="362.7" cy="290.3" r="3.2"/><circle cx="368.6" cy="297.8" r="2"/><circle cx="369.3" cy="302.1" r="2.6"/><circle cx="354.9" cy="307.2" r="3.2"/><circle cx="368.4" cy="317.7" r="3.2"/><circle cx="363.5" cy="320" r="3.2"/><circle cx="346" cy="324" r="3.2"/><circle cx="330" cy="327" r="3.2"/><circle cx="330.9" cy="337.4" r="3.2"/><circle cx="342.3" cy="339.3" r="3.2"/><circle cx="330.7" cy="347.9" r="3.2"/><circle cx="344.4" cy="346.3" r="3.2"/><circle cx="329.3" cy="357.7" r="3.2"/><circle cx="278.5" cy="323.5" r="3.2"/><circle cx="300.1" cy="340.2" r="3.2"/><circle cx="309.9" cy="346.7" r="2.6"/><circle cx="280.8" cy="346.7" r="2.6"/><circle cx="303.4" cy="351.4" r="3.2"/><circle cx="287.8" cy="357.7" r="3.2"/><circle cx="296.9" cy="357.2" r="3.2"/><circle cx="266.9" cy="364.9" r="2.6"/><circle cx="280.3" cy="369.3" r="3.2"/><circle cx="259.4" cy="378.6" r="3.2"/><circle cx="278.5" cy="378.6" r="3.2"/><circle cx="285" cy="382.3" r="3.2"/><circle cx="276.2" cy="384.7" r="3.2"/><circle cx="262.2" cy="389.8" r="3.2"/><circle cx="259.4" cy="394" r="3.2"/><circle cx="239.4" cy="396.7" r="2.6"/><circle cx="236.2" cy="398.6" r="3.2"/><circle cx="321.6" cy="84.2" r="3.2"/><circle cx="326.5" cy="91.6" r="3.2"/><circle cx="299.3" cy="116.5" r="3.2"/><circle cx="314.7" cy="115.3" r="3.2"/><circle cx="324.2" cy="116.5" r="3.2"/><circle cx="336" cy="116.5" r="3.2"/><circle cx="359.8" cy="114.4" r="3.2"/><circle cx="346.3" cy="122.8" r="3.2"/><circle cx="366.4" cy="122.8" r="3.2"/><circle cx="322.8" cy="132.1" r="3.2"/><circle cx="335.6" cy="136.7" r="3.2"/><circle cx="302.6" cy="138.1" r="3.2"/><circle cx="349.5" cy="147.4" r="3.2"/><circle cx="366.6" cy="144.5" r="3.2"/><circle cx="363.5" cy="165.4" r="3.2"/><circle cx="376.6" cy="125.4" r="3.2"/><circle cx="380.5" cy="139.2" r="3.2"/><circle cx="386.3" cy="151.8" r="3.2"/><circle cx="374.2" cy="168.7" r="3.2"/><circle cx="388.1" cy="165.3" r="3.2"/><circle cx="382.6" cy="172.2" r="3.2"/><circle cx="390" cy="174.7" r="3.2"/><circle cx="372.7" cy="181.2" r="3.2"/><circle cx="387.2" cy="184.3" r="3.2"/><circle cx="378.8" cy="192.3" r="3.2"/><circle cx="391.3" cy="193.3" r="3.2"/><circle cx="388.5" cy="202.4" r="3.2"/><circle cx="268.8" cy="69.8" r="3.2"/><circle cx="275.6" cy="74" r="3.2"/><circle cx="235.1" cy="83.3" r="3.2"/><circle cx="227.9" cy="88.6" r="3.2"/><circle cx="257" cy="109.5" r="3.2"/><circle cx="246.5" cy="114.7" r="2.6"/><circle cx="265.1" cy="118.8" r="2.6"/><circle cx="291.6" cy="110.7" r="2"/><circle cx="280.5" cy="122.1" r="2"/><circle cx="234.9" cy="130.5" r="2.6"/><circle cx="243.7" cy="133.7" r="2.6"/><circle cx="135.8" cy="51.9" r="3.2"/><circle cx="124.9" cy="60.5" r="3.2"/><circle cx="135.3" cy="57.7" r="3.2"/><circle cx="137.7" cy="73.3" r="3.2"/><circle cx="119.1" cy="74" r="3.2"/><circle cx="109.8" cy="78.4" r="3.2"/><circle cx="119.1" cy="82.1" r="3.2"/><circle cx="120.2" cy="92.6" r="3.2"/><circle cx="136" cy="94.5" r="3.2"/><circle cx="95.1" cy="93.9" r="3.2"/><circle cx="116.7" cy="105.6" r="3.2"/><circle cx="112.1" cy="124" r="3.2"/><circle cx="95.1" cy="133" r="3.2"/><circle cx="94.7" cy="143.3" r="3.2"/><circle cx="138.3" cy="46.9" r="3.2"/><circle cx="165.2" cy="39" r="3.2"/><circle cx="173.4" cy="35" r="1.5"/><circle cx="178.5" cy="36.6" r="3.2"/><circle cx="182.9" cy="32.7" r="3.2"/><circle cx="175" cy="51.5" r="3.2"/><circle cx="160.3" cy="66.6" r="3.2"/><circle cx="179" cy="80.8" r="3.2"/><circle cx="205.9" cy="34.8" r="3.2"/><circle cx="215.2" cy="32.4" r="3.2"/><circle cx="219.7" cy="38.7" r="3.2"/><circle cx="211.3" cy="46.9" r="3.2"/><circle cx="204.1" cy="54.5" r="2.6"/><circle cx="145.8" cy="130.3" r="3.2"/></g>
<g font-family="'Liberation Sans',Arial,sans-serif" font-size="3.75" fill="#1a1a1a" dominant-baseline="central"><text transform="translate(36.09 155.39) rotate(18.4)" text-anchor="end">GgaGPx04</text><text transform="translate(34.69 159.76) rotate(17)" text-anchor="end">CjaGPx04</text><text transform="translate(33.41 164.17) rotate(15.6)" text-anchor="end">AmisGPx04</text><text transform="translate(32.23 168.6) rotate(14.19)" text-anchor="end">TelGPx04A</text><text transform="translate(31.16 173.06) rotate(12.79)" text-anchor="end">TelGPx04B</text><text transform="translate(30.19 177.55) rotate(11.39)" text-anchor="end">PagGPx04</text><text transform="translate(29.34 182.06) rotate(9.99)" text-anchor="end">CpriGPx04</text><text transform="translate(28.6 186.59) rotate(8.59)" text-anchor="end">AplatGPx04</text><text transform="translate(27.97 191.14) rotate(7.18)" text-anchor="end">PpuGPx04</text><text transform="translate(27.45 195.7) rotate(5.78)" text-anchor="end">CgaGPx04</text><text transform="translate(27.05 200.27) rotate(4.38)" text-anchor="end">NpaGPx04</text><text transform="translate(26.75 204.85) rotate(2.98)" text-anchor="end">XtGPx04</text><text transform="translate(26.57 209.44) rotate(1.58)" text-anchor="end">MmulGPx04</text><text transform="translate(26.5 214.03) rotate(0.18)" text-anchor="end">HsGPx04A</text><text transform="translate(26.54 218.62) rotate(-1.23)" text-anchor="end">MmGPx04A</text><text transform="translate(26.7 223.2) rotate(-2.63)" text-anchor="end">SscGPx04</text><text transform="translate(26.96 227.78) rotate(-4.03)" text-anchor="end">BtGPx04A</text><text transform="translate(27.34 232.36) rotate(-5.43)" text-anchor="end">DrGPx04A</text><text transform="translate(27.83 236.92) rotate(-6.83)" text-anchor="end">DrGPx04C</text><text transform="translate(28.43 241.47) rotate(-8.24)" text-anchor="end">EelGPx04A</text><text transform="translate(29.15 246.01) rotate(-9.64)" text-anchor="end">OkisGPx04C</text><text transform="translate(29.97 250.52) rotate(-11.04)" text-anchor="end">GalmorGPx04</text><text transform="translate(30.91 255.02) rotate(-12.44)" text-anchor="end">DrGPx04B</text><text transform="translate(31.95 259.49) rotate(-13.84)" text-anchor="end">EelGPx04B</text><text transform="translate(33.1 263.93) rotate(-15.24)" text-anchor="end">OkisGPx04B</text><text transform="translate(34.36 268.34) rotate(-16.65)" text-anchor="end">OkisGPx04A</text><text transform="translate(35.73 272.72) rotate(-18.05)" text-anchor="end">ObimGPx04B</text><text transform="translate(37.21 277.07) rotate(-19.45)" text-anchor="end">WlaGPx04</text><text transform="translate(38.79 281.38) rotate(-20.85)" text-anchor="end">AgiGPx04</text><text transform="translate(40.47 285.65) rotate(-22.25)" text-anchor="end">ApiGPx04</text><text transform="translate(42.26 289.87) rotate(-23.66)" text-anchor="end">CflGPx04A</text><text transform="translate(44.16 294.05) rotate(-25.06)" text-anchor="end">CflGPx04B</text><text transform="translate(46.15 298.19) rotate(-26.46)" text-anchor="end">PgloGPx04</text><text transform="translate(48.25 302.27) rotate(-27.86)" text-anchor="end">CflGPx04C</text><text transform="translate(50.44 306.3) rotate(-29.26)" text-anchor="end">CmiGPx04</text><text transform="translate(52.73 310.28) rotate(-30.66)" text-anchor="end">LchGPx04</text><text transform="translate(55.12 314.2) rotate(-32.07)" text-anchor="end">KkGPx04A</text><text transform="translate(57.61 318.06) rotate(-33.47)" text-anchor="end">OoGPx04</text><text transform="translate(60.18 321.86) rotate(-34.87)" text-anchor="end">ChGPx04</text><text transform="translate(62.85 325.59) rotate(-36.27)" text-anchor="end">LaroGPx04A</text><text transform="translate(65.61 329.26) rotate(-37.67)" text-anchor="end">LaroGPx04B</text><text transform="translate(68.46 332.85) rotate(-39.08)" text-anchor="end">PcanGPx04A</text><text transform="translate(71.4 336.38) rotate(-40.48)" text-anchor="end">PcanGPx04B</text><text transform="translate(74.42 339.84) rotate(-41.88)" text-anchor="end">ObimGPx04A</text><text transform="translate(77.53 343.22) rotate(-43.28)" text-anchor="end">CgigGPx04A</text><text transform="translate(80.72 346.52) rotate(-44.68)" text-anchor="end">CgigGPx04B</text><text transform="translate(83.98 349.74) rotate(-46.09)" text-anchor="end">MyesGPx04</text><text transform="translate(87.33 352.88) rotate(-47.49)" text-anchor="end">PfuGPx04</text><text transform="translate(90.75 355.94) rotate(-48.89)" text-anchor="end">LgiGPx04</text><text transform="translate(94.24 358.92) rotate(-50.29)" text-anchor="end">BglGPx04A</text><text transform="translate(97.81 361.81) rotate(-51.69)" text-anchor="end">BglGPx04B</text><text transform="translate(101.45 364.61) rotate(-53.09)" text-anchor="end">CteGPx04</text><text transform="translate(105.15 367.32) rotate(-54.5)" text-anchor="end">HrobGPx04A</text><text transform="translate(108.92 369.94) rotate(-55.9)" text-anchor="end">HrobGPx04B</text><text transform="translate(112.75 372.47) rotate(-57.3)" text-anchor="end">TcaGPx04</text><text transform="translate(116.64 374.9) rotate(-58.7)" text-anchor="end">BmoGPx04</text><text transform="translate(120.59 377.24) rotate(-60.1)" text-anchor="end">DmeGPx04</text><text transform="translate(124.6 379.47) rotate(-61.51)" text-anchor="end">DpuGPx04</text><text transform="translate(128.66 381.61) rotate(-62.91)" text-anchor="end">IscGPx04</text><text transform="translate(132.77 383.65) rotate(-64.31)" text-anchor="end">LpoGPx04A</text><text transform="translate(136.93 385.59) rotate(-65.71)" text-anchor="end">LpoGPx04B</text><text transform="translate(141.14 387.43) rotate(-67.11)" text-anchor="end">CelGPx04A</text><text transform="translate(145.39 389.16) rotate(-68.51)" text-anchor="end">CelGPx04B</text><text transform="translate(149.68 390.79) rotate(-69.92)" text-anchor="end">AvaGPx04</text><text transform="translate(154.01 392.32) rotate(-71.32)" text-anchor="end">SkoGPx04</text><text transform="translate(158.37 393.73) rotate(-72.72)" text-anchor="end">PmiGPx04</text><text transform="translate(162.77 395.04) rotate(-74.12)" text-anchor="end">AjapGPx04</text><text transform="translate(167.2 396.24) rotate(-75.52)" text-anchor="end">SpurGPx04A</text><text transform="translate(171.66 397.34) rotate(-76.93)" text-anchor="end">SpurGPx04B</text><text transform="translate(176.14 398.32) rotate(-78.33)" text-anchor="end">AplaGPx04</text><text transform="translate(180.65 399.19) rotate(-79.73)" text-anchor="end">BflGPx04A</text><text transform="translate(185.18 399.96) rotate(-81.13)" text-anchor="end">BflGPx04B</text><text transform="translate(189.72 400.61) rotate(-82.53)" text-anchor="end">BbeGPx04</text><text transform="translate(194.28 401.15) rotate(-83.93)" text-anchor="end">CsavGPx04</text><text transform="translate(198.85 401.58) rotate(-85.34)" text-anchor="end">NvecGPx04A</text><text transform="translate(203.43 401.9) rotate(-86.74)" text-anchor="end">NvecGPx04B</text><text transform="translate(208.01 402.1) rotate(-88.14)" text-anchor="end">SpisGPx04</text><text transform="translate(212.6 402.19) rotate(-89.54)" text-anchor="end">PdamGPx04</text><text transform="translate(217.19 402.17) rotate(89.06)">DgigGPx04A</text><text transform="translate(221.78 402.04) rotate(87.65)">DgigGPx04B</text><text transform="translate(226.36 401.8) rotate(86.25)">AqueGPx04A</text><text transform="translate(230.94 401.44) rotate(84.85)">AqueGPx04B</text><text transform="translate(235.49 400.98) rotate(83.45)">HsGPx08</text><text transform="translate(240.03 400.4) rotate(82.06)">MmulGPx08</text><text transform="translate(244.55 399.71) rotate(80.66)">MmGPx08</text><text transform="translate(249.05 398.92) rotate(79.26)">RnoGPx08</text><text transform="translate(253.53 398.01) rotate(77.87)">BtGPx08</text><text transform="translate(257.98 397) rotate(76.47)">SscGPx08</text><text transform="translate(262.41 395.87) rotate(75.08)">GgaGPx08</text><text transform="translate(266.82 394.64) rotate(73.68)">CjaGPx08</text><text transform="translate(271.19 393.3) rotate(72.28)">AmisGPx08</text><text transform="translate(275.52 391.86) rotate(70.89)">TelGPx08</text><text transform="translate(279.82 390.31) rotate(69.49)">PagGPx08</text><text transform="translate(284.08 388.66) rotate(68.1)">CpriGPx08</text><text transform="translate(288.3 386.9) rotate(66.7)">AplatGPx08</text><text transform="translate(292.48 385.04) rotate(65.3)">CgaGPx08</text><text transform="translate(296.61 383.08) rotate(63.91)">NpaGPx08</text><text transform="translate(300.69 381.02) rotate(62.51)">XtGPx08A</text><text transform="translate(304.72 378.86) rotate(61.12)">XtGPx08B</text><text transform="translate(308.69 376.61) rotate(59.72)">DrGPx08</text><text transform="translate(312.61 374.25) rotate(58.32)">EelGPx08</text><text transform="translate(316.47 371.81) rotate(56.93)">OkisGPx08</text><text transform="translate(320.27 369.27) rotate(55.53)">GalmorGPx08</text><text transform="translate(324.01 366.63) rotate(54.14)">LchGPx08</text><text transform="translate(327.68 363.91) rotate(52.74)">OoGPx07</text><text transform="translate(331.28 361.1) rotate(51.34)">LchGPx07</text><text transform="translate(334.82 358.2) rotate(49.95)">PpuGPx07</text><text transform="translate(338.28 355.22) rotate(48.55)">NpaGPx07</text><text transform="translate(341.67 352.15) rotate(47.16)">CgaGPx07</text><text transform="translate(344.98 349) rotate(45.76)">GgaGPx07A</text><text transform="translate(348.22 345.77) rotate(44.36)">CjaGPx07</text><text transform="translate(351.37 342.47) rotate(42.97)">AmisGPx07</text><text transform="translate(354.45 339.09) rotate(41.57)">AplatGPx07</text><text transform="translate(357.44 335.63) rotate(40.18)">CpriGPx07</text><text transform="translate(360.34 332.1) rotate(38.78)">TelGPx07</text><text transform="translate(363.16 328.5) rotate(37.39)">PagGPx07</text><text transform="translate(365.89 324.84) rotate(35.99)">SscGPx07</text><text transform="translate(368.53 321.11) rotate(34.59)">BtGPx07</text><text transform="translate(371.08 317.32) rotate(33.2)">MmGPx07</text><text transform="translate(373.54 313.46) rotate(31.8)">HsGPx07</text><text transform="translate(375.9 309.55) rotate(30.41)">MmulGPx07</text><text transform="translate(378.16 305.58) rotate(29.01)">XtGPx07</text><text transform="translate(380.33 301.55) rotate(27.61)">GalmorGPx07</text><text transform="translate(382.4 297.48) rotate(26.22)">OkisGPx07</text><text transform="translate(384.37 293.35) rotate(24.82)">DrGPx07</text><text transform="translate(386.24 289.18) rotate(23.43)">EelGPx07</text><text transform="translate(388 284.97) rotate(22.03)">KkGPx07</text><text transform="translate(389.67 280.71) rotate(20.63)">CmiGPx07</text><text transform="translate(391.22 276.41) rotate(19.24)">CgigGPx07</text><text transform="translate(392.68 272.08) rotate(17.84)">ObimGPx07</text><text transform="translate(394.03 267.71) rotate(16.45)">PcanGPx07</text><text transform="translate(395.27 263.31) rotate(15.05)">LaroGPx07</text><text transform="translate(396.4 258.88) rotate(13.65)">BbeGPx07</text><text transform="translate(397.42 254.43) rotate(12.26)">BflGPx07</text><text transform="translate(398.34 249.95) rotate(10.86)">CsavGPx07</text><text transform="translate(399.15 245.45) rotate(9.47)">SpurGPx07</text><text transform="translate(399.84 240.94) rotate(8.07)">AplaGPx07</text><text transform="translate(400.43 236.4) rotate(6.67)">DgigGPx07A</text><text transform="translate(400.9 231.86) rotate(5.28)">DgigGPx07B</text><text transform="translate(401.27 227.3) rotate(3.88)">PdamGPx07</text><text transform="translate(401.52 222.74) rotate(2.49)">SpisGPx07</text><text transform="translate(401.67 218.17) rotate(1.09)">NvecGPx07A</text><text transform="translate(401.7 213.6) rotate(-0.31)">AqueGPx07</text><text transform="translate(401.62 209.03) rotate(-1.7)">HrobGPx07</text><text transform="translate(401.43 204.5) rotate(-3.09)">SscGPx05</text><text transform="translate(401.13 200.01) rotate(-4.46)">BtGPx05</text><text transform="translate(400.73 195.53) rotate(-5.83)">MmulGPx05</text><text transform="translate(400.22 191.06) rotate(-7.21)">HsGPx05A</text><text transform="translate(399.6 186.61) rotate(-8.58)">MmGPx05</text><text transform="translate(398.88 182.17) rotate(-9.95)">RnoGPx05</text><text transform="translate(398.05 177.75) rotate(-11.33)">SscGPx06</text><text transform="translate(397.11 173.35) rotate(-12.7)">BtGPx06</text><text transform="translate(396.07 168.98) rotate(-14.08)">MmulGPx06</text><text transform="translate(394.92 164.63) rotate(-15.45)">HsGPx06</text><text transform="translate(393.67 160.31) rotate(-16.82)">RnoGPx06</text><text transform="translate(392.32 156.02) rotate(-18.2)">MmGPx03</text><text transform="translate(390.86 151.76) rotate(-19.57)">RnoGPx03</text><text transform="translate(389.31 147.54) rotate(-20.94)">BtGPx03</text><text transform="translate(387.65 143.36) rotate(-22.32)">MmulGPx03</text><text transform="translate(385.89 139.22) rotate(-23.69)">HsGPx03</text><text transform="translate(384.03 135.13) rotate(-25.06)">SscGPx03</text><text transform="translate(382.08 131.07) rotate(-26.44)">GgaGPx03</text><text transform="translate(380.03 127.07) rotate(-27.81)">AplatGPx03</text><text transform="translate(377.88 123.12) rotate(-29.19)">CliGPx03</text><text transform="translate(375.64 119.22) rotate(-30.56)">PagGPx03</text><text transform="translate(373.31 115.37) rotate(-31.93)">AmisGPx03</text><text transform="translate(370.89 111.59) rotate(-33.31)">CgaGPx03</text><text transform="translate(368.37 107.86) rotate(-34.68)">CpriGPx03</text><text transform="translate(365.77 104.19) rotate(-36.05)">NpaGPx03</text><text transform="translate(363.08 100.59) rotate(-37.43)">KkGPx03</text><text transform="translate(360.3 97.05) rotate(-38.8)">EelGPx03</text><text transform="translate(357.44 93.58) rotate(-40.17)">DrGPx03</text><text transform="translate(354.5 90.18) rotate(-41.55)">ChGPx03</text><text transform="translate(351.48 86.85) rotate(-42.92)">GalmorGPx03</text><text transform="translate(348.38 83.59) rotate(-44.3)">OkisGPx03</text><text transform="translate(345.2 80.41) rotate(-45.67)">XtGPx03A</text><text transform="translate(341.94 77.3) rotate(-47.04)">XtGPx03B</text><text transform="translate(338.61 74.28) rotate(-48.42)">LchGPx03</text><text transform="translate(335.21 71.33) rotate(-49.79)">CmiGPx03</text><text transform="translate(331.74 68.47) rotate(-51.16)">OoGPx03</text><text transform="translate(327.99 65.53) rotate(-52.62)">LaroGPx03</text><text transform="translate(323.95 62.53) rotate(-54.16)">PcanGPx03</text><text transform="translate(319.83 59.64) rotate(-55.69)">ObimGPx03</text><text transform="translate(315.64 56.85) rotate(-57.23)">CgigGPx03</text><text transform="translate(311.56 54.3) rotate(-58.7)">MyesGPx03</text><text transform="translate(307.62 51.97) rotate(-60.1)">PfuGPx03</text><text transform="translate(303.61 49.73) rotate(-61.5)">LgiGPx03</text><text transform="translate(299.56 47.6) rotate(-62.9)">BglGPx03</text><text transform="translate(295.45 45.56) rotate(-64.3)">CteGPx03</text><text transform="translate(291.38 43.66) rotate(-65.67)">HrobGPx03</text><text transform="translate(287.34 41.89) rotate(-67.02)">TcaGPx03</text><text transform="translate(283.26 40.21) rotate(-68.37)">BmoGPx03</text><text transform="translate(279.14 38.64) rotate(-69.71)">DmeGPx03</text><text transform="translate(274.99 37.16) rotate(-71.06)">DpuGPx03</text><text transform="translate(270.8 35.77) rotate(-72.41)">IscGPx03</text><text transform="translate(266.59 34.49) rotate(-73.75)">LpoGPx03</text><text transform="translate(262.34 33.31) rotate(-75.1)">CelGPx03</text><text transform="translate(258.06 32.22) rotate(-76.45)">AvaGPx03</text><text transform="translate(253.77 31.24) rotate(-77.79)">SkoGPx03</text><text transform="translate(249.45 30.36) rotate(-79.14)">PmiGPx03</text><text transform="translate(245.11 29.58) rotate(-80.49)">AjapGPx03</text><text transform="translate(240.75 28.9) rotate(-81.83)">NvecGPx03</text><text transform="translate(236.38 28.33) rotate(-83.18)">SpisGPx03</text><text transform="translate(231.99 27.86) rotate(-84.53)">PdamGPx03</text><text transform="translate(227.53 27.48) rotate(-85.89)">CflGPx02</text><text transform="translate(223 27.21) rotate(-87.28)">CgaGPx02</text><text transform="translate(218.46 27.05) rotate(-88.67)">PpuGPx02</text><text transform="translate(213.92 27) rotate(-270.06)" text-anchor="end">CjaGPx02</text><text transform="translate(209.38 27.06) rotate(-271.44)" text-anchor="end">GgaGPx02</text><text transform="translate(204.84 27.23) rotate(-272.83)" text-anchor="end">AmisGPx02</text><text transform="translate(200.3 27.51) rotate(-274.22)" text-anchor="end">TelGPx02</text><text transform="translate(195.78 27.9) rotate(-275.6)" text-anchor="end">PagGPx02</text><text transform="translate(191.26 28.39) rotate(-276.99)" text-anchor="end">CpriGPx02</text><text transform="translate(186.76 29) rotate(-278.38)" text-anchor="end">AplatGPx02</text><text transform="translate(182.28 29.72) rotate(-279.77)" text-anchor="end">XtGPx02</text><text transform="translate(177.81 30.54) rotate(-281.15)" text-anchor="end">HsGPx02</text><text transform="translate(173.37 31.48) rotate(-282.54)" text-anchor="end">MmulGPx02</text><text transform="translate(168.95 32.52) rotate(-283.93)" text-anchor="end">MmGPx02</text><text transform="translate(164.55 33.66) rotate(-285.31)" text-anchor="end">RnoGPx02</text><text transform="translate(160.18 34.91) rotate(-286.7)" text-anchor="end">BtGPx02</text><text transform="translate(155.85 36.27) rotate(-288.09)" text-anchor="end">SscGPx02</text><text transform="translate(151.55 37.73) rotate(-289.48)" text-anchor="end">OkisGPx02</text><text transform="translate(147.29 39.3) rotate(-290.86)" text-anchor="end">DrGPx02</text><text transform="translate(143.06 40.97) rotate(-292.25)" text-anchor="end">CmiGPx02</text><text transform="translate(138.88 42.74) rotate(-293.64)" text-anchor="end">GgaGPx01</text><text transform="translate(134.74 44.61) rotate(-295.03)" text-anchor="end">CjaGPx01</text><text transform="translate(130.65 46.58) rotate(-296.41)" text-anchor="end">AmisGPx01</text><text transform="translate(126.61 48.65) rotate(-297.8)" text-anchor="end">TelGPx01</text><text transform="translate(122.61 50.82) rotate(-299.19)" text-anchor="end">PagGPx01</text><text transform="translate(118.68 53.08) rotate(-300.57)" text-anchor="end">CpriGPx01</text><text transform="translate(114.79 55.44) rotate(-301.96)" text-anchor="end">AplatGPx01</text><text transform="translate(110.97 57.89) rotate(-303.35)" text-anchor="end">HsGPx01</text><text transform="translate(107.21 60.43) rotate(-304.74)" text-anchor="end">MmulGPx01</text><text transform="translate(103.5 63.07) rotate(-306.12)" text-anchor="end">MmGPx01</text><text transform="translate(99.87 65.79) rotate(-307.51)" text-anchor="end">RnoGPx01</text><text transform="translate(96.3 68.6) rotate(-308.9)" text-anchor="end">BtGPx01</text><text transform="translate(92.8 71.49) rotate(-310.29)" text-anchor="end">SscGPx01</text><text transform="translate(89.37 74.47) rotate(-311.67)" text-anchor="end">XtGPx01</text><text transform="translate(86.01 77.53) rotate(-313.06)" text-anchor="end">NpaGPx01</text><text transform="translate(82.73 80.67) rotate(-314.45)" text-anchor="end">LchGPx01</text><text transform="translate(79.53 83.89) rotate(-315.83)" text-anchor="end">KkGPx01</text><text transform="translate(76.4 87.19) rotate(-317.22)" text-anchor="end">GalmorGPx01</text><text transform="translate(73.36 90.56) rotate(-318.61)" text-anchor="end">DrGPx01A</text><text transform="translate(70.4 94) rotate(-320)" text-anchor="end">DrGPx01B</text><text transform="translate(67.52 97.52) rotate(-321.38)" text-anchor="end">EelGPx01</text><text transform="translate(64.73 101.1) rotate(-322.77)" text-anchor="end">OkisGPx01A</text><text transform="translate(62.03 104.75) rotate(-324.16)" text-anchor="end">OkisGPx01B</text><text transform="translate(59.41 108.46) rotate(-325.54)" text-anchor="end">CmiGPx01</text><text transform="translate(56.89 112.24) rotate(-326.93)" text-anchor="end">BflGPx01</text><text transform="translate(54.45 116.07) rotate(-328.32)" text-anchor="end">BbeGPx01A</text><text transform="translate(52.12 119.97) rotate(-329.71)" text-anchor="end">BbeGPx01B</text></g></svg>
<div class="box" style="left:434.5px;top:68.6px;width:114px;height:211.5px"></div>
<div class="ttl" style="left:438.8px;top:69.9px">Colored ranges</div>
<div class="hr" style="left:437.3px;top:86.3px;width:109px"></div>
<div class="sw" style="left:438px;top:91.35px;background:#ff9f9f"></div>
<div class="lt" style="left:460px;top:91.05px">GPx01</div>
<div class="sw" style="left:438px;top:112.55px;background:#fa6868"></div>
<div class="lt" style="left:460px;top:112.25px">GPx02</div>
<div class="sw" style="left:438px;top:133.75px;background:#74c87b"></div>
<div class="lt" style="left:460px;top:133.45px">Invertebrate cGPx</div>
<div class="sw" style="left:438px;top:154.95px;background:#ffd95f"></div>
<div class="lt" style="left:460px;top:154.65px">GPx03</div>
<div class="sw" style="left:438px;top:176.15px;background:#c98a00"></div>
<div class="lt" style="left:460px;top:175.85px">GPx05</div>
<div class="sw" style="left:438px;top:197.35px;background:#ffc20e"></div>
<div class="lt" style="left:460px;top:197.05px">GPx06</div>
<div class="sw" style="left:438px;top:218.55px;background:#957fc8"></div>
<div class="lt" style="left:460px;top:218.25px">GPx07</div>
<div class="sw" style="left:438px;top:239.75px;background:#714dad"></div>
<div class="lt" style="left:460px;top:239.45px">GPx08</div>
<div class="sw" style="left:438px;top:260.95px;background:#47a9df"></div>
<div class="lt" style="left:460px;top:260.65px">GPx04</div>
<div class="box" style="left:435px;top:281px;width:53px;height:124px"></div>
<div class="ttl" style="left:438.5px;top:281.2px">posterior</div>
<div class="hr" style="left:438px;top:297.5px;width:47px"></div>
<div class="dot" style="left:444.8px;top:309.1px;width:1.8px;height:1.8px"></div>
<div class="lt" style="left:460px;top:303px">0.9</div>
<div class="dot" style="left:444.1px;top:329.5px;width:3.2px;height:3.2px"></div>
<div class="lt" style="left:460px;top:324.1px">0.93</div>
<div class="dot" style="left:443.6px;top:350.1px;width:4.2px;height:4.2px"></div>
<div class="lt" style="left:460px;top:345.2px">0.95</div>
<div class="dot" style="left:442.9px;top:370.5px;width:5.6px;height:5.6px"></div>
<div class="lt" style="left:460px;top:366.3px">0.98</div>
<div class="dot" style="left:442.2px;top:390.9px;width:7px;height:7px"></div>
<div class="lt" style="left:460px;top:387.4px">1</div>
</body></html>
